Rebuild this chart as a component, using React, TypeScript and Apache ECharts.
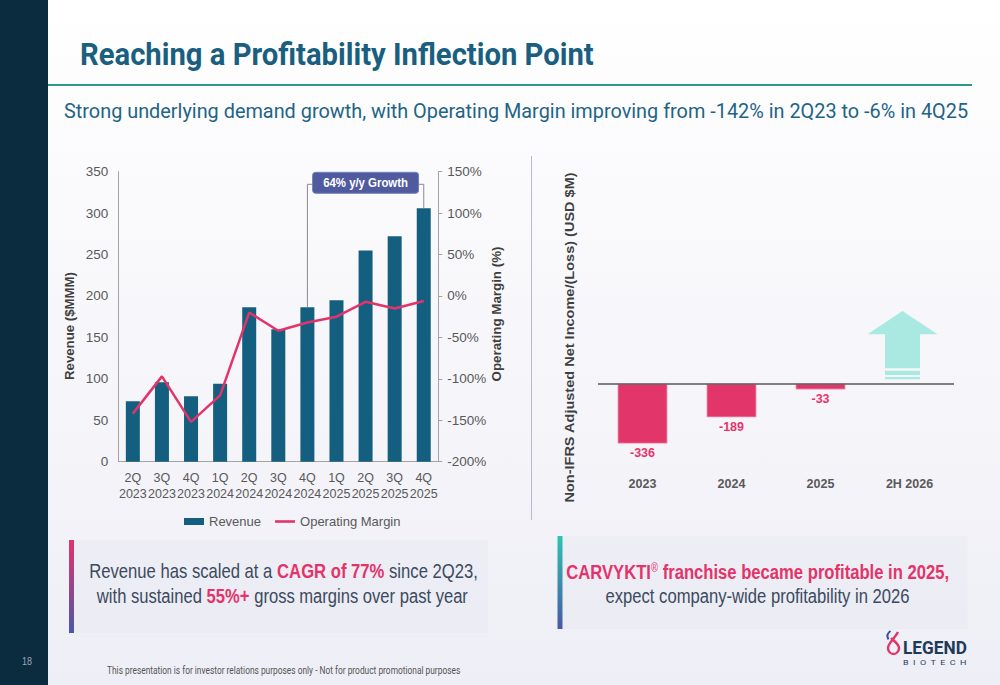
import React, { useEffect, useRef } from 'react';
import * as echarts from 'echarts';

// ---- Revenue & operating margin by quarter ----
const quarters = ['2Q\n2023', '3Q\n2023', '4Q\n2023', '1Q\n2024', '2Q\n2024', '3Q\n2024', '4Q\n2024', '1Q\n2025', '2Q\n2025', '3Q\n2025', '4Q\n2025'];
const revenue = [73, 96, 79, 94, 186.5, 160, 186.5, 195, 255, 272, 306];
const operatingMargin = [-142, -97, -152, -120, -20, -42, -32, -25, -7, -15, -6];
const revenueAxis = { min: 0, max: 350, interval: 50 };
const marginAxis = { min: -200, max: 150, interval: 50 };
const growthFrom = 6;
const growthTo = 10;
const growthLabel = '64% y/y Growth';

// ---- Non-IFRS adjusted net income / (loss) ----
const years = ['2023', '2024', '2025', '2H 2026'];
const netIncome: (number | string)[] = [-336, -189, -33, '-'];
const profitableYear = 3;
const netIncomeAxis = { min: -400, max: 1200 };

const FONT = 'Liberation Sans';
const TITLE_FONT = 'Roboto';
const NAVY = '#145F7F';
const PINK = '#E3346A';
const SLATE = '#3B4A5E';

let measureCtx: CanvasRenderingContext2D | null = null;
function textWidth(text: string, size: number, weight: string, family: string) {
  if (!measureCtx) measureCtx = document.createElement('canvas').getContext('2d');
  measureCtx!.font = `${weight} ${size}px "${family}"`;
  return measureCtx!.measureText(text).width;
}

// Plain text squeezed horizontally to a given width
function fitText(o: {
  text: string; x: number; y: number; size: number; width: number;
  weight?: string; family?: string; color: string; align?: string; rotation?: number; z?: number;
}) {
  const weight = o.weight || 'normal';
  const family = o.family || FONT;
  const w = textWidth(o.text, o.size, weight, family);
  return {
    type: 'text',
    x: o.x,
    y: o.y,
    rotation: o.rotation || 0,
    scaleX: o.width / w,
    z: o.z ?? 10,
    style: {
      text: o.text,
      fill: o.color,
      fontSize: o.size,
      fontWeight: weight,
      fontFamily: family,
      align: o.align || 'center',
      verticalAlign: 'middle',
    },
  };
}

// One line of mixed regular / highlighted text, squeezed to a given width
function richLine(segments: [string, string][], styles: Record<string, any>, x: number, y: number, width: number) {
  let total = 0;
  for (const [key, txt] of segments) {
    const s = styles[key];
    total += textWidth(txt, s.fontSize, s.fontWeight || 'normal', s.fontFamily || FONT);
  }
  return {
    type: 'text',
    x,
    y,
    scaleX: width / total,
    z: 10,
    style: {
      text: segments.map(([k, t]) => `{${k}|${t}}`).join(''),
      rich: styles,
      align: 'center',
      verticalAlign: 'middle',
    },
  };
}

echarts.graphic.registerShape(
  'legendLoop',
  echarts.graphic.extendPath('M 12 1 C 9 7 2 12 2 17 C 2 21 5 23 7.5 23 C 10 23 13 21 13 17 C 13 13 8 10 5 7', {})
);
echarts.graphic.registerShape('legendArc', echarts.graphic.extendPath('M 4.5 0 C 1.5 2 0.5 5 2.5 8.5', {}));

export default function App() {
  const ref = useRef<HTMLDivElement>(null);

  useEffect(() => {
    document.body.style.margin = '0';
    const chart = echarts.init(ref.current!, undefined, { renderer: 'svg' });

    const bodyStyles = {
      n: { fontSize: 21, fontFamily: FONT, fill: SLATE },
      h: { fontSize: 21, fontFamily: FONT, fontWeight: 'bold', fill: PINK },
      sup: { fontSize: 12, fontFamily: FONT, fill: PINK, verticalAlign: 'top', padding: [0, 0, 8, 0] },
    };

    const graphic: any[] = [
      // page background
      {
        type: 'rect', z: -10, shape: { x: 0, y: 0, width: 1000, height: 685 },
        style: {
          fill: new echarts.graphic.LinearGradient(0, 0, 0, 1, [
            { offset: 0, color: '#FFFFFF' },
            { offset: 1, color: '#EEEEF6' },
          ]),
        },
      },
      { type: 'rect', z: -9, shape: { x: 0, y: 0, width: 48, height: 685 }, style: { fill: '#0B2C3E' } },
      { type: 'line', z: -9, shape: { x1: 48, y1: 85, x2: 972, y2: 85 }, style: { stroke: '#2A9A8A', lineWidth: 2 } },
      { type: 'line', z: -9, shape: { x1: 531.5, y1: 156, x2: 531.5, y2: 520 }, style: { stroke: '#B4BCCB', lineWidth: 1 } },

      fitText({ text: 'Reaching a Profitability Inflection Point', x: 80, y: 54, size: 31, weight: 'bold', family: TITLE_FONT, color: '#1A5F80', width: 514, align: 'left' }),
      fitText({ text: 'Strong underlying demand growth, with Operating Margin improving from -142% in 2Q23 to -6% in 4Q25', x: 64, y: 111, size: 21, family: TITLE_FONT, color: '#1F6485', width: 904, align: 'left' }),

      // axis titles
      fitText({ text: 'Revenue ($MMM)', x: 70, y: 326, size: 12.5, weight: 'bold', color: '#3F3F3F', width: 108, rotation: Math.PI / 2 }),
      fitText({ text: 'Operating Margin (%)', x: 496.5, y: 314, size: 12.5, weight: 'bold', color: '#3F3F3F', width: 135, rotation: Math.PI / 2 }),
      fitText({ text: 'Non-IFRS Adjusted Net Income/(Loss) (USD $M)', x: 569, y: 337.5, size: 13.5, weight: 'bold', color: '#3F3F3F', width: 331, rotation: Math.PI / 2 }),

      // takeaway boxes
      { type: 'rect', z: -8, shape: { x: 69, y: 540, width: 419, height: 93 }, style: { fill: 'rgba(200,205,222,0.09)' } },
      {
        type: 'rect', z: -7, shape: { x: 69, y: 540, width: 5, height: 93 },
        style: { fill: new echarts.graphic.LinearGradient(0, 0, 0, 1, [{ offset: 0, color: '#E3346A' }, { offset: 1, color: '#4A57A6' }]) },
      },
      richLine([['n', 'Revenue has scaled at a '], ['h', 'CAGR of 77%'], ['n', ' since 2Q23,']], bodyStyles, 283.5, 571, 389),
      richLine([['n', 'with sustained '], ['h', '55%+'], ['n', ' gross margins over past year']], bodyStyles, 282.4, 596, 371),

      { type: 'rect', z: -8, shape: { x: 557.5, y: 536, width: 410, height: 93 }, style: { fill: 'rgba(200,205,222,0.09)' } },
      {
        type: 'rect', z: -7, shape: { x: 557.5, y: 536, width: 5, height: 93 },
        style: { fill: new echarts.graphic.LinearGradient(0, 0, 0, 1, [{ offset: 0, color: '#2EC4B0' }, { offset: 1, color: '#4A57A6' }]) },
      },
      richLine([['h', 'CARVYKTI'], ['sup', '®'], ['h', ' franchise became profitable in 2025,']], bodyStyles, 757.7, 572, 383),
      richLine([['n', 'expect company-wide profitability in 2026']], bodyStyles, 757.5, 596, 304),

      // footer
      fitText({ text: '18', x: 27, y: 661, size: 10, color: '#9AA8B8', width: 10 }),
      fitText({ text: 'This presentation is for investor relations purposes only - Not for product promotional purposes', x: 107, y: 670.5, size: 10.5, family: TITLE_FONT, color: '#555555', width: 354, align: 'left' }),

      // company mark
      { type: 'legendArc', x: 886, y: 631, style: { stroke: '#3553A0', fill: 'none', lineWidth: 2 } },
      { type: 'legendLoop', x: 886, y: 631, style: { stroke: '#E3346A', fill: 'none', lineWidth: 2.4 } },
      fitText({ text: 'LEGEND', x: 903, y: 647.5, size: 18.5, weight: 'bold', family: TITLE_FONT, color: '#1E3A5A', width: 64, align: 'left' }),
      fitText({ text: 'B  I  O  T  E  C  H', x: 903, y: 662.5, size: 8, family: TITLE_FONT, color: '#2A3F5A', width: 64, align: 'left' }),
    ];

    const axisGrey = '#A3A3A3';
    const labelGrey = '#595959';

    chart.setOption({
      animation: false,
      textStyle: { fontFamily: FONT },
      graphic,
      legend: {
        left: 184,
        top: 515,
        padding: 0,
        itemWidth: 20,
        itemHeight: 7,
        itemGap: 14,
        textStyle: { fontSize: 13, color: labelGrey, fontFamily: FONT },
        data: [
          { name: 'Revenue', icon: 'rect' },
          { name: 'Operating Margin', icon: 'path://M0 0 H20 V2.6 H0 Z' },
        ],
      },
      grid: [
        { left: 118.3, top: 171.7, width: 320, height: 290 },
        { left: 598, top: 169.4, width: 356, height: 285.7 },
      ],
      xAxis: [
        {
          type: 'category', gridIndex: 0, data: quarters,
          axisLine: { lineStyle: { color: axisGrey, width: 1 } },
          axisTick: { show: false },
          axisLabel: { interval: 0, fontSize: 12.5, color: labelGrey, lineHeight: 16, margin: 8 },
        },
        {
          type: 'category', gridIndex: 1, data: years,
          axisLine: { show: false, onZero: false },
          axisTick: { show: false },
          axisLabel: { interval: 0, fontSize: 12.5, fontWeight: 'bold', color: labelGrey, margin: 22 },
        },
      ],
      yAxis: [
        {
          type: 'value', gridIndex: 0, ...revenueAxis,
          axisLine: { show: true, lineStyle: { color: axisGrey, width: 1 } },
          axisTick: { show: false },
          splitLine: { show: false },
          axisLabel: { fontSize: 13.5, color: labelGrey, margin: 10 },
        },
        {
          type: 'value', gridIndex: 0, position: 'right', ...marginAxis,
          axisLine: { show: true, lineStyle: { color: axisGrey, width: 1 } },
          axisTick: { show: true, length: 4, lineStyle: { color: axisGrey } },
          splitLine: { show: false },
          axisLabel: { fontSize: 13.5, color: labelGrey, margin: 9, formatter: '{value}%' },
        },
        {
          type: 'value', gridIndex: 1, ...netIncomeAxis, show: false, splitLine: { show: false },
        },
      ],
      series: [
        {
          name: 'Revenue', type: 'bar', xAxisIndex: 0, yAxisIndex: 0,
          data: revenue, barWidth: 14, itemStyle: { color: NAVY }, z: 2,
        },
        {
          name: 'Operating Margin', type: 'line', xAxisIndex: 0, yAxisIndex: 1,
          data: operatingMargin, symbol: 'none', z: 4,
          lineStyle: { color: PINK, width: 2.5 }, itemStyle: { color: PINK },
        },
        {
          // bracket and callout for year-over-year growth
          type: 'custom', xAxisIndex: 0, yAxisIndex: 0, z: 3, silent: true,
          data: [[growthFrom, revenue[growthFrom], growthTo, revenue[growthTo]]],
          renderItem: (params: any, api: any) => {
            const a = api.coord([api.value(0), api.value(1)]);
            const b = api.coord([api.value(2), api.value(3)]);
            const top = params.coordSys.y;
            const yLine = top + 12.6;
            const cx = (a[0] + b[0]) / 2;
            const w = 106;
            const h = 21;
            const tw = textWidth(growthLabel, 12, 'bold', FONT);
            return {
              type: 'group',
              children: [
                {
                  type: 'polyline',
                  shape: { points: [[a[0], a[1]], [a[0], yLine], [b[0], yLine], [b[0], b[1]]] },
                  style: { stroke: '#8A8A8A', lineWidth: 1, fill: 'none' },
                },
                {
                  type: 'rect',
                  shape: { x: cx - w / 2, y: top + 0.6, width: w, height: h, r: 3 },
                  style: { fill: '#4F5B9E', stroke: '#7480BA', lineWidth: 1 },
                },
                {
                  type: 'text', x: cx, y: top + 0.6 + h / 2, scaleX: 85 / tw,
                  style: { text: growthLabel, fill: '#FFFFFF', fontSize: 12, fontWeight: 'bold', fontFamily: FONT, align: 'center', verticalAlign: 'middle' },
                },
              ],
            };
          },
        },
        {
          name: 'Net Income', type: 'bar', xAxisIndex: 1, yAxisIndex: 2,
          data: netIncome, barWidth: 50,
          itemStyle: { color: '#E2366A', borderColor: '#F4B4C6', borderWidth: 0.8 },
          label: {
            show: true, position: 'bottom', distance: 3,
            fontSize: 12.5, fontWeight: 'bold', color: '#E8336B', fontFamily: FONT,
          },
          markLine: {
            silent: true, symbol: 'none',
            label: { show: false },
            lineStyle: { color: '#595959', width: 1.5, type: 'solid' },
            data: [{ yAxis: 0 }],
          },
        },
        {
          // upward arrow marking expected profitability
          type: 'custom', xAxisIndex: 1, yAxisIndex: 2, z: 3, silent: true,
          data: [[profitableYear, 0]],
          renderItem: (_params: any, api: any) => {
            const c = api.coord([api.value(0), api.value(1)]);
            const x = c[0] - 7;
            const y = c[1];
            const fill = '#A9E9E1';
            return {
              type: 'group',
              children: [
                {
                  type: 'polygon',
                  shape: {
                    points: [
                      [x, y - 72.7], [x + 35, y - 49.4], [x + 17.5, y - 49.4], [x + 17.5, y - 15.4],
                      [x - 17.5, y - 15.4], [x - 17.5, y - 49.4], [x - 35, y - 49.4],
                    ],
                  },
                  style: { fill },
                },
                { type: 'rect', shape: { x: x - 17.5, y: y - 13, width: 35, height: 4.3 }, style: { fill } },
                { type: 'rect', shape: { x: x - 17.5, y: y - 6.7, width: 35, height: 2.3 }, style: { fill } },
              ],
            };
          },
        },
      ],
    });

    return () => chart.dispose();
  }, []);

  return <div ref={ref} style={{ position: 'absolute', left: 0, top: 0, width: 1000, height: 685 }} />;
}
